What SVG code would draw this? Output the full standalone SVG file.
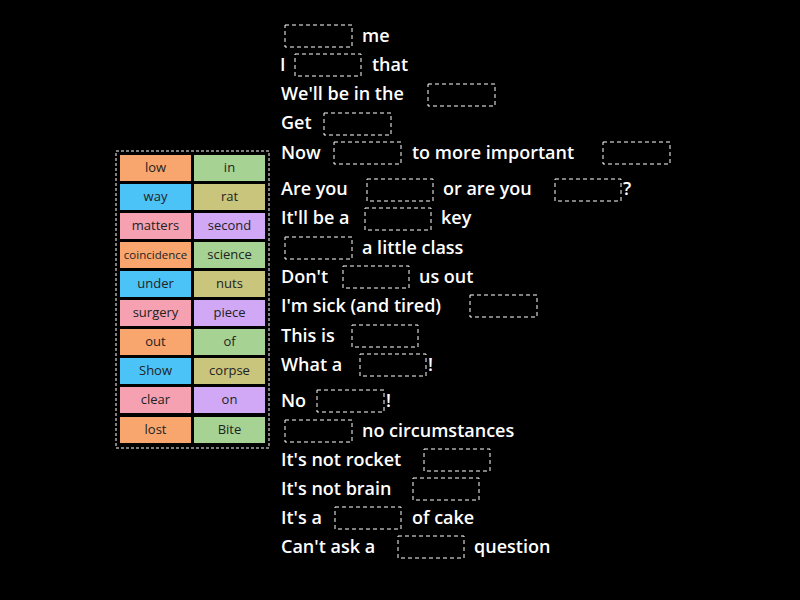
<svg xmlns="http://www.w3.org/2000/svg" width="800" height="600" viewBox="0 0 800 600">
<style>
.s{font-family:"Open Sans","Liberation Sans",sans-serif;font-weight:600;font-size:18px;fill:#fff}
.b{fill:none;stroke:#fff;stroke-width:1;stroke-dasharray:4,3}
.t{font-family:"Open Sans","Liberation Sans",sans-serif;font-size:13px;fill:#222;text-anchor:middle}
.o{fill:#f8a66e}.g{fill:#a6d294}.u{fill:#4cc3f6}.y{fill:#c9c57d}.p{fill:#f6a1b1}.v{fill:#d0a8f6}
</style>
<rect width="800" height="600" fill="#000"/>
<g id="bank">
<rect x="116" y="151" width="153" height="297" fill="none" stroke="#fff" stroke-dasharray="3,2"/>
<g id="r1"><rect class="o" x="120" y="155" width="71" height="26"/><text class="t" x="155.5" y="172">low</text><rect class="g" x="194" y="155" width="71" height="26"/><text class="t" x="229.5" y="172">in</text></g>
<g id="r2"><rect class="u" x="120" y="184" width="71" height="26"/><text class="t" x="155.5" y="201">way</text><rect class="y" x="194" y="184" width="71" height="26"/><text class="t" x="229.5" y="201">rat</text></g>
<g id="r3"><rect class="p" x="120" y="213" width="71" height="26"/><text class="t" x="155.5" y="230">matters</text><rect class="v" x="194" y="213" width="71" height="26"/><text class="t" x="229.5" y="230">second</text></g>
<g id="r4"><rect class="o" x="120" y="242" width="71" height="26"/><text class="t" x="155.5" y="259" style="font-size:11.5px">coincidence</text><rect class="g" x="194" y="242" width="71" height="26"/><text class="t" x="229.5" y="259">science</text></g>
<g id="r5"><rect class="u" x="120" y="271" width="71" height="26"/><text class="t" x="155.5" y="288">under</text><rect class="y" x="194" y="271" width="71" height="26"/><text class="t" x="229.5" y="288">nuts</text></g>
<g id="r6"><rect class="p" x="120" y="300" width="71" height="26"/><text class="t" x="155.5" y="317">surgery</text><rect class="v" x="194" y="300" width="71" height="26"/><text class="t" x="229.5" y="317">piece</text></g>
<g id="r7"><rect class="o" x="120" y="329" width="71" height="26"/><text class="t" x="155.5" y="346">out</text><rect class="g" x="194" y="329" width="71" height="26"/><text class="t" x="229.5" y="346">of</text></g>
<g id="r8"><rect class="u" x="120" y="358" width="71" height="26"/><text class="t" x="155.5" y="375">Show</text><rect class="y" x="194" y="358" width="71" height="26"/><text class="t" x="229.5" y="375">corpse</text></g>
<g id="r9"><rect class="p" x="120" y="387" width="71" height="26"/><text class="t" x="155.5" y="404">clear</text><rect class="v" x="194" y="387" width="71" height="26"/><text class="t" x="229.5" y="404">on</text></g>
<g id="r10"><rect class="o" x="120" y="417" width="71" height="26"/><text class="t" x="155.5" y="434">lost</text><rect class="g" x="194" y="417" width="71" height="26"/><text class="t" x="229.5" y="434">Bite</text></g>
</g>
<g id="sentences">
<g id="l1"><rect class="b" x="285" y="25" width="67" height="22"/><text class="s" x="362" y="42">me</text></g>
<g id="l2"><text class="s" x="280" y="71">I</text><rect class="b" x="295" y="54" width="66" height="22"/><text class="s" x="372" y="71">that</text></g>
<g id="l3"><text class="s" x="281" y="100">We'll be in the</text><rect class="b" x="428" y="84" width="67" height="22"/></g>
<g id="l4"><text class="s" x="281" y="129">Get</text><rect class="b" x="324" y="113" width="67" height="22"/></g>
<g id="l5"><text class="s" x="281" y="159">Now</text><rect class="b" x="334" y="142" width="67" height="22"/><text class="s" x="412" y="159">to more important</text><rect class="b" x="603" y="142" width="67" height="22"/></g>
<g id="l6"><text class="s" x="281" y="195">Are you</text><rect class="b" x="367" y="179" width="66" height="22"/><text class="s" x="443" y="195">or are you</text><rect class="b" x="555" y="179" width="66" height="22"/><text class="s" x="623" y="195">?</text></g>
<g id="l7"><text class="s" x="281" y="224">It'll be a</text><rect class="b" x="365" y="208" width="66" height="22"/><text class="s" x="441" y="224">key</text></g>
<g id="l8"><rect class="b" x="285" y="237" width="67" height="22"/><text class="s" x="362" y="254">a little class</text></g>
<g id="l9"><text class="s" x="281" y="283">Don't</text><rect class="b" x="343" y="266" width="66" height="22"/><text class="s" x="419" y="283">us out</text></g>
<g id="l10"><text class="s" x="281" y="312">I'm sick (and tired)</text><rect class="b" x="470" y="295" width="67" height="22"/></g>
<g id="l11"><text class="s" x="281" y="342">This is</text><rect class="b" x="352" y="325" width="66" height="22"/></g>
<g id="l12"><text class="s" x="281" y="371">What a</text><rect class="b" x="360" y="354" width="66" height="22"/><text class="s" x="428" y="371">!</text></g>
<g id="l13"><text class="s" x="281" y="407">No</text><rect class="b" x="317" y="390" width="67" height="22"/><text class="s" x="386" y="407">!</text></g>
<g id="l14"><rect class="b" x="285" y="420" width="67" height="22"/><text class="s" x="362" y="437">no circumstances</text></g>
<g id="l15"><text class="s" x="281" y="466">It's not rocket</text><rect class="b" x="424" y="449" width="66" height="22"/></g>
<g id="l16"><text class="s" x="281" y="495">It's not brain</text><rect class="b" x="413" y="478" width="66" height="22"/></g>
<g id="l17"><text class="s" x="281" y="524">It's a</text><rect class="b" x="335" y="507" width="66" height="22"/><text class="s" x="412" y="524">of cake</text></g>
<g id="l18"><text class="s" x="281" y="553">Can't ask a</text><rect class="b" x="398" y="536" width="66" height="22"/><text class="s" x="474" y="553">question</text></g>
</g>
</svg>
